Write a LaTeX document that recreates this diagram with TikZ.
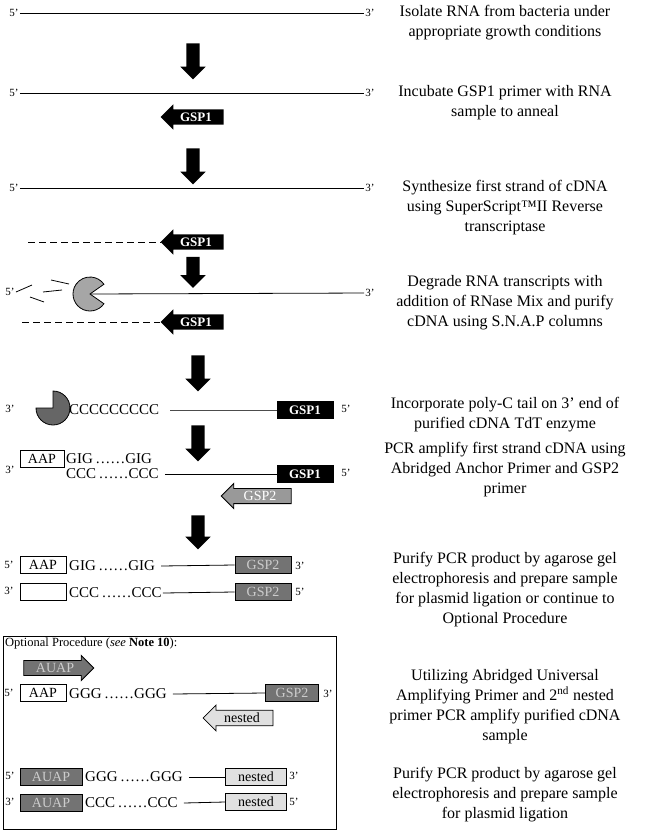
\documentclass[tikz,border=0pt]{standalone}
\usepackage{fontspec}
\setmainfont{Liberation Serif}
\usetikzlibrary{shapes.arrows}
\begin{document}
\begin{tikzpicture}[x=1pt,y=-1pt,
  strand/.style={line width=0.8pt},
  endl/.style={font=\fontsize{11}{11}\selectfont,inner sep=1pt},
  seq/.style={font=\fontsize{15}{15}\selectfont,inner sep=1pt},
  stepdown/.style={single arrow,shape border rotate=270,fill=black,minimum height=36,single arrow head extend=6,single arrow head indent=0,inner sep=6.5pt},
  gspone/.style={single arrow,shape border rotate=180,fill=black,text=white,font=\fontsize{13}{13}\selectfont\bfseries,minimum height=63,single arrow head extend=5,inner sep=3pt},
  primer/.style={single arrow,draw,line width=0.8pt,font=\fontsize{14}{14}\selectfont,minimum height=70,single arrow head extend=5,inner sep=2.5pt},
  box/.style={draw,line width=0.8pt,minimum height=17,inner sep=1pt,font=\fontsize{14}{14}\selectfont},
  darkbox/.style={box,fill=black!55,text=white!80!black},
  lightbox/.style={box,fill=black!12},
  note/.style={align=center,font=\fontsize{16}{20}\selectfont}]
\useasboundingbox (0,0) rectangle (660,832);
% step 1
\node[endl] (a5) at (14,13) {5'};
\node[endl] (a3) at (370,13) {3'};
\draw[strand] (a5) -- (a3);
\node[stepdown] (s1) at (193,58) {};
\node[note] (t1) at (505,23) {Isolate RNA from bacteria under\\appropriate growth conditions};
% step 2
\node[endl] (b5) at (14,93) {5'};
\node[endl] (b3) at (370,93) {3'};
\draw[strand] (b5) -- (b3);
\node[gspone] (g1) at (196,117) {GSP1};
\node[stepdown] (s2) at (193,163) {};
\node[note] (t2) at (505,103) {Incubate GSP1 primer with RNA\\sample to anneal};
% step 3
\node[endl] (c5) at (14,188) {5'};
\node[endl] (c3) at (370,188) {3'};
\draw[strand] (c5) -- (c3);
\node[gspone] (g2) at (196,242) {GSP1};
\coordinate (d3) at (28,242);
\draw[strand,dashed,dash pattern=on 7pt off 4pt] (d3) -- (g2.tip);
\node[stepdown,minimum height=31] (s3) at (193,269) {};
\node[note] (t3) at (505,208) {Synthesize first strand of cDNA\\using SuperScript\texttrademark II Reverse\\transcriptase};
% step 4
\node[endl] (e5) at (10,292) {5'};
\node[endl] (e3) at (370,293) {3'};
\coordinate (pac) at (90,294);
\draw[strand] (pac) -- (e3);
\filldraw[fill=black!35,line width=0.8pt] (pac) -- ++(35:17) arc (35:325:17) -- cycle;
\draw[strand] (16,292) -- (32,285) (30,297) -- (44,302) (43,292) -- (62,290) (51,280) -- (69,284);
\node[gspone] (g3) at (196,322) {GSP1};
\coordinate (d4) at (22,322);
\draw[strand,dashed,dash pattern=on 7pt off 4pt] (d4) -- (g3.tip);
\node[stepdown] (s4) at (198,370) {};
\node[note] (t4) at (505,303) {Degrade RNA transcripts with\\addition of RNase Mix and purify\\cDNA using S.N.A.P columns};
% step 5
\node[endl] (f3) at (10,409) {3'};
\filldraw[fill=black!60,line width=0.8pt] (53,408) -- ++(-90:17) arc (-90:180:17) -- cycle;
\node[seq,anchor=west] (fc) at (68,410) {CCCCCCCCC};
\node[box,fill=black,text=white,font=\fontsize{13}{13}\selectfont\bfseries,minimum width=56] (fg) at (305,410) {GSP1};
\node[endl] (f5) at (346,409) {5'};
\draw[line width=0.8pt,black!70] ([xshift=10]fc.east) -- (fg.west);
\node[stepdown] (s5) at (198,440) {};
\node[note] (t5) at (505,415) {Incorporate poly-C tail on 3' end of\\purified cDNA TdT enzyme};
% step 6
\node[endl] (h3) at (10,470) {3'};
\node[box,minimum width=44] (haap) at (42,459) {AAP};
\node[seq,anchor=west] (hg) at (65,459) {GIG\,\dots\dots GIG};
\node[seq,anchor=west] (hc) at (65,474) {CCC\,\dots\dots CCC};
\node[box,fill=black,text=white,font=\fontsize{13}{13}\selectfont\bfseries,minimum width=56] (hgsp) at (305,474) {GSP1};
\node[endl] (h5) at (346,473) {5'};
\draw[strand] ([xshift=5]hc.east) -- (hgsp.west);
\node[primer,shape border rotate=180,fill=black!40,text=white] (g4) at (260,496) {GSP2};
\node[stepdown,minimum height=34] (s6) at (198,529) {};
\node[note] (t6) at (505,470) {PCR amplify first strand cDNA using\\Abridged Anchor Primer and GSP2\\primer};
% step 7
\node[endl] (k5) at (9,565) {5'};
\node[box,minimum width=46] (kaap) at (43,565) {AAP};
\node[seq,anchor=west] (kg) at (68,566) {GIG\,\dots\dots GIG};
\node[darkbox,minimum width=56] (kgsp) at (263,565) {GSP2};
\node[endl] (k3) at (300,566) {3'};
\draw[strand] ([xshift=5]kg.east) -- (kgsp.west);
\node[endl] (m3) at (9,591) {3'};
\node[box,minimum width=46] (maap) at (43,592) {\phantom{AAP}};
\node[seq,anchor=west] (mc) at (68,593) {CCC\,\dots\dots CCC};
\node[darkbox,minimum width=56] (mgsp) at (263,592) {GSP2};
\node[endl] (m5) at (300,592) {5'};
\draw[strand] (mc.east) -- (mgsp.west);
\node[note] (t7) at (505,590) {Purify PCR product by agarose gel\\electrophoresis and prepare sample\\for plasmid ligation or continue to\\Optional Procedure};
% optional procedure
\node[draw,line width=0.8pt,minimum width=333,minimum height=193,anchor=north west] (opt) at (3,636) {};
\node[anchor=north west,font=\fontsize{12.5}{14}\selectfont,inner sep=2pt] (optl) at (opt.north west) {Optional Procedure (\textit{see} \textbf{Note 10}):};
\node[primer,fill=black!55,text=white!80!black] (auap) at (55,668) {AUAP};
\node[endl] (p5) at (9,693) {5'};
\node[box,minimum width=46] (paap) at (43,693) {AAP};
\node[seq,anchor=west] (pg) at (68,694) {GGG\,\dots\dots GGG};
\node[darkbox,minimum width=53] (pgsp) at (292,693) {GSP2};
\node[endl] (p3) at (328,694) {3'};
\draw[strand] ([xshift=5]pg.east) -- (pgsp.west);
\node[primer,shape border rotate=180,fill=black!12] (nest) at (242,718) {nested};
\node[note] (t8) at (505,707) {Utilizing Abridged Universal\\Amplifying Primer and 2\textsuperscript{nd} nested\\primer PCR amplify purified cDNA\\sample};
\node[endl] (q5) at (10,776) {5'};
\node[darkbox,minimum width=62] (qa) at (51,777) {AUAP};
\node[seq,anchor=west] (qg) at (84,777) {GGG\,\dots\dots GGG};
\node[lightbox,minimum width=61] (qn) at (256,777) {nested};
\node[endl] (q3) at (294,776) {3'};
\draw[strand] ([xshift=5]qg.east) -- (qn.west);
\node[endl] (r3) at (10,802) {3'};
\node[darkbox,minimum width=62] (ra) at (51,803) {AUAP};
\node[seq,anchor=west] (rc) at (84,803) {CCC\,\dots\dots CCC};
\node[lightbox,minimum width=61] (rn) at (256,802) {nested};
\node[endl] (r5) at (294,802) {5'};
\draw[strand] ([xshift=5]rc.east) -- (rn.west);
\node[note] (t9) at (505,795) {Purify PCR product by agarose gel\\electrophoresis and prepare sample\\for plasmid ligation};
\end{tikzpicture}
\end{document}
